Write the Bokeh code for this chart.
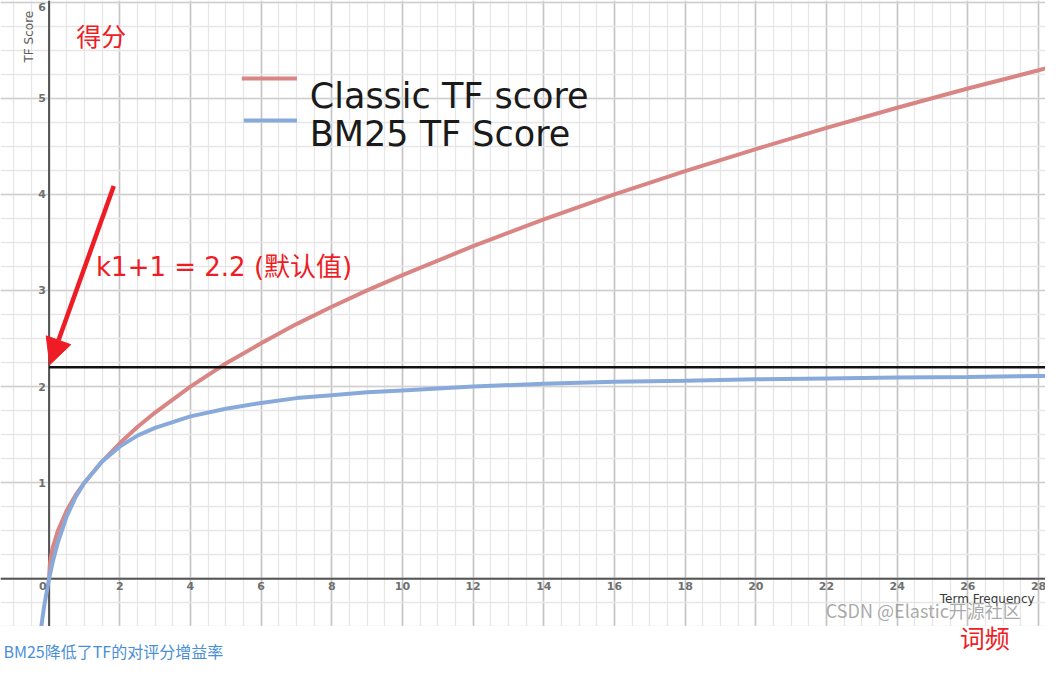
from bokeh.plotting import figure
from bokeh.models import Range1d, Grid, SingleIntervalTicker, Arrow, NormalHead
from bokeh.embed import file_html
from bokeh.resources import INLINE
from bokeh.core.properties import value

# ---------------- data ----------------
tf_classic = [0, 0.02, 0.05, 0.1, 0.25, 0.5, 0.75, 1, 1.5, 2, 2.5, 3, 4, 5, 6, 7, 8,
              9, 10, 12, 14, 16, 18, 20, 22, 24, 26, 28, 28.5]
classic_score = [0, 0.14, 0.22, 0.32, 0.5, 0.71, 0.87, 1.0, 1.22, 1.41, 1.58, 1.73, 2.0,
                 2.24, 2.45, 2.65, 2.83, 3.0, 3.16, 3.46, 3.74, 4.0, 4.24, 4.47, 4.69,
                 4.9, 5.1, 5.29, 5.34]

tf_bm25 = [-0.25, -0.15, -0.05, 0, 0.1, 0.25, 0.5, 0.75, 1, 1.5, 2, 2.5, 3, 4, 5, 6, 7,
           8, 9, 10, 12, 14, 16, 18, 20, 22, 24, 26, 28, 28.5]
bm25_score = [-0.58, -0.31, -0.1, 0, 0.17, 0.38, 0.65, 0.85, 1.0, 1.22, 1.375, 1.49, 1.57,
              1.69, 1.77, 1.83, 1.88, 1.91, 1.94, 1.96, 2.0, 2.03, 2.05, 2.06, 2.075,
              2.085, 2.095, 2.10, 2.11, 2.11]

k1_plus_1 = 2.2

x_tick_values = [2, 4, 6, 8, 10, 12, 14, 16, 18, 20, 22, 24, 26, 28]
y_tick_values = [1, 2, 3, 4, 5]

series_names = ["Classic TF score", "BM25 TF Score"]

# ---------------- geometry helpers (reference pixels -> data) ----------------
X0_PX, X_SCALE = 49.3, 35.88
Y0_PX, Y_SCALE = 592.3, 98.46


def px2x(px):
    return (px - X0_PX) / X_SCALE


def px2y(py):
    return (Y0_PX - py) / Y_SCALE


RED_CURVE = "#d88584"
BLUE_CURVE = "#88aada"
ANNOT_RED = "#ee1c25"
TICK_GRAY = "#707070"

p = figure(width=1045, height=664,
           x_range=Range1d(px2x(0), px2x(1061)),
           y_range=Range1d(px2y(680), px2y(0)),
           x_axis_type=None, y_axis_type=None,
           min_border=0, toolbar_location=None, output_backend="svg",
           outline_line_color=None, background_fill_color="white",
           border_fill_color="white")

# grid
xgrid = Grid(dimension=0, ticker=SingleIntervalTicker(interval=2, num_minor_ticks=4),
             grid_line_color="#c4c4c4", grid_line_width=1.6,
             minor_grid_line_color="#e6e6e6", minor_grid_line_width=1.3)
ygrid = Grid(dimension=1, ticker=SingleIntervalTicker(interval=1, num_minor_ticks=4),
             grid_line_color="#d0d0d0", grid_line_width=1.6,
             minor_grid_line_color="#e6e6e6", minor_grid_line_width=1.3)
p.add_layout(xgrid, "center")
p.add_layout(ygrid, "center")

# axis lines
p.segment(x0=[0], y0=[px2y(641)], x1=[0], y1=[px2y(0)], line_color="#555555", line_width=2)
p.segment(x0=[px2x(0)], y0=[0], x1=[px2x(1061)], y1=[0], line_color="#555555", line_width=2)

# curves
p.line(tf_classic, classic_score, line_color=RED_CURVE, line_width=4)
p.line(tf_bm25, bm25_score, line_color=BLUE_CURVE, line_width=4)

# white area below the graph
p.quad(left=[px2x(0)], right=[px2x(1061)], bottom=[px2y(700)], top=[px2y(640.5)],
       fill_color="white", line_color=None)

# k1+1 line
p.segment(x0=[0], y0=[k1_plus_1], x1=[px2x(1061)], y1=[k1_plus_1],
          line_color="#111111", line_width=2.5)

# tick labels
p.text(x=x_tick_values, y=[px2y(600)] * len(x_tick_values),
       text=[str(v) for v in x_tick_values], text_align="center", text_baseline="middle",
       text_font=value("DejaVu Sans"), text_font_size="11px", text_font_style="bold",
       text_color=TICK_GRAY)
p.text(x=[px2x(43)], y=[px2y(600)], text=["0"], text_align="center", text_baseline="middle",
       text_font=value("DejaVu Sans"), text_font_size="11px", text_font_style="bold",
       text_color=TICK_GRAY)
p.text(x=[px2x(46)] * len(y_tick_values), y=y_tick_values,
       text=[str(v) for v in y_tick_values], text_align="right", text_baseline="middle",
       text_font=value("DejaVu Sans"), text_font_size="11px", text_font_style="bold",
       text_color=TICK_GRAY)
p.text(x=[px2x(46)], y=[px2y(3)], text=["6"], text_align="right", text_baseline="top",
       text_font=value("DejaVu Sans"), text_font_size="11px", text_font_style="bold",
       text_color=TICK_GRAY)

# axis titles
p.text(x=[px2x(29)], y=[px2y(37)], text=["TF Score"], angle=1.5708,
       text_align="center", text_baseline="middle",
       text_font=value("DejaVu Sans"), text_font_size="12px", text_color="#606060")
p.text(x=[px2x(1050)], y=[px2y(613)], text=["Term Frequency"],
       text_align="right", text_baseline="middle",
       text_font=value("DejaVu Sans"), text_font_size="12px", text_color="#3a3a3a")

# legend (drawn by hand, no box)
p.segment(x0=[px2x(245)], y0=[px2y(80)], x1=[px2x(301)], y1=[px2y(80)],
          line_color=RED_CURVE, line_width=4)
p.segment(x0=[px2x(247)], y0=[px2y(123)], x1=[px2x(301)], y1=[px2y(123)],
          line_color=BLUE_CURVE, line_width=4)
p.text(x=[px2x(314), px2x(314)], y=[px2y(97.7), px2y(136.7)], text=series_names,
       text_align="left", text_baseline="alphabetic",
       text_font=value("DejaVu Sans"), text_font_size="35px", text_color="#1a1a1a")

# red annotations
p.text(x=[px2x(77)], y=[px2y(35)], text=["得分"], text_align="left", text_baseline="middle",
       text_font=value("Noto Sans CJK SC"), text_font_size="25px", text_color=ANNOT_RED)
p.text(x=[px2x(97)], y=[px2y(273)], text=["k1+1 = 2.2 (默认值)"], text_align="left",
       text_baseline="middle", text_font=value("'DejaVu Sans', 'Noto Sans CJK SC'"),
       text_font_size="26px", text_color=ANNOT_RED)
p.text(x=[px2x(974)], y=[px2y(652)], text=["词频"], text_align="left", text_baseline="middle",
       text_font=value("Noto Sans CJK SC"), text_font_size="25px", text_color=ANNOT_RED)

p.add_layout(Arrow(end=NormalHead(size=26, fill_color=ANNOT_RED, line_color=ANNOT_RED),
                   x_start=px2x(115), y_start=px2y(190), x_end=px2x(50), y_end=px2y(373),
                   line_color=ANNOT_RED, line_width=4.5))

# watermark and caption
p.text(x=[px2x(838)], y=[px2y(624)], text=["CSDN @Elastic开源社区"], text_align="left",
       text_baseline="middle", text_font=value("Noto Sans CJK SC"), text_font_size="18px",
       text_color="#9a9a9a", text_alpha=0.85)
p.text(x=[px2x(3)], y=[px2y(654)], text=["BM25降低了TF的对评分增益率"], text_align="left",
       text_baseline="top", text_font=value("Noto Sans CJK SC"), text_font_size="16px",
       text_color="#4a8fd6")

open("out.html", "w").write(file_html(p, INLINE, title="BM25 TF score"))
